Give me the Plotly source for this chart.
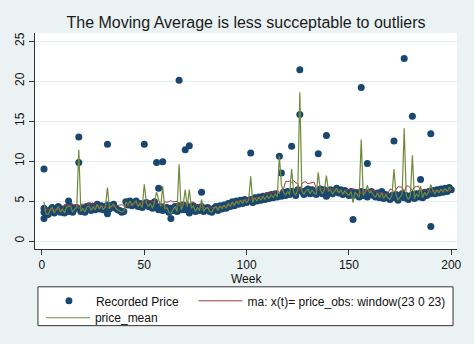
import numpy as np
import pandas as pd
import plotly.graph_objects as go

# Weekly recorded prices (one regular observation per week, weeks 1..200)
weeks = list(range(1, 201))
base_price = [
    4.1, 3.4, 3.3, 3.9, 4.2, 3.5, 3.9, 4.3, 3.6, 4.0,
    3.5, 4.2, 3.7, 4.3, 3.6, 4.0, 4.2, 9.8, 3.7, 4.1,
    3.6, 4.3, 4.4, 3.8, 4.3, 3.9, 4.6, 4.0, 4.4, 3.9,
    4.3, 4.5, 4.0, 4.4, 4.6, 4.1, 3.9, 3.8, 3.6, 3.7,
    4.9, 4.5, 5.0, 4.4, 4.8, 5.0, 4.3, 4.7, 4.2, 4.6,
    4.8, 4.3, 4.7, 4.1, 4.9, 4.3, 3.9, 4.3, 3.8, 4.0,
    4.2, 3.6, 4.1, 3.8, 4.3, 3.7, 4.3, 3.9, 4.5, 4.0,
    4.3, 3.9, 4.1, 4.4, 3.7, 4.2, 3.8, 4.3, 3.7, 4.1,
    4.2, 3.7, 3.6, 4.1, 4.3, 3.8, 4.4, 4.0, 4.5, 4.1,
    4.7, 4.3, 4.9, 4.4, 5.0, 4.6, 5.1, 4.7, 5.2, 4.8,
    5.1, 5.2, 4.8, 5.4, 5.0, 5.5, 5.1, 5.6, 5.2, 5.7,
    5.3, 5.8, 5.4, 5.9, 5.5, 10.6, 5.6, 6.1, 5.7, 6.2,
    5.8, 6.2, 6.1, 5.7, 6.4, 15.8, 6.2, 5.8, 6.3, 6.5,
    5.9, 6.4, 6.0, 5.8, 6.2, 6.5, 5.9, 6.4, 5.7, 6.2,
    6.4, 5.9, 6.3, 6.6, 6.0, 6.4, 5.8, 6.3, 5.9, 5.7,
    6.2, 5.7, 6.1, 5.8, 5.5, 6.2, 5.7, 6.1, 5.7, 6.0,
    6.2, 5.7, 5.5, 6.0, 5.4, 5.9, 5.3, 5.8, 5.4, 5.2,
    5.7, 5.4, 5.8, 5.1, 5.6, 5.9, 5.4, 5.7, 5.2, 5.6,
    5.8, 5.3, 5.9, 5.5, 6.0, 5.4, 6.1, 5.7, 6.2, 5.9,
    6.3, 5.9, 6.4, 6.0, 6.5, 6.1, 6.6, 6.2, 6.7, 6.4,
]

# Additional observations recorded in some weeks (including the outliers)
extra_week = [1, 1, 1, 13, 18, 32, 32, 50, 50, 56, 56, 57, 59, 63, 67, 67,
              70, 70, 72, 72, 78, 102, 117, 122, 126, 135, 139, 139, 152, 152,
              156, 159, 159, 166, 172, 177, 181, 185, 190, 190]
extra_price = [9.0, 2.8, 3.6, 5.0, 13.0, 12.1, 3.4, 12.1, 4.6, 9.8, 4.2, 6.6,
               9.9, 2.8, 20.1, 4.4, 11.4, 3.9, 11.9, 3.5, 6.1, 11.0, 8.5, 11.85,
               21.4, 10.9, 13.2, 5.6, 2.7, 6.0, 19.2, 9.7, 5.5, 6.2, 12.5, 22.8,
               15.6, 7.7, 13.4, 1.8]

x_ticks = [0, 50, 100, 150, 200]
y_ticks = [0, 5, 10, 15, 20, 25]

obs = pd.DataFrame({
    "week": weeks + extra_week,
    "price": base_price + extra_price,
})

# Mean price per week
price_mean = obs.groupby("week")["price"].mean()
pm_vals = price_mean.to_numpy()

# Centred moving average of the weekly series, current week left out
SPAN = 7
ma_vals = []
for i in range(len(pm_vals)):
    window = np.r_[pm_vals[max(0, i - SPAN):i], pm_vals[i + 1:i + 1 + SPAN]]
    ma_vals.append(window.mean())

FONT = "Liberation Sans, Arial, sans-serif"
NAVY = "#1A476F"
MAROON = "#9C3A42"
GREEN = "#6F8A3A"
BG = "#EAF2F3"
TXT = "#111111"

# plot area in pixels: x 35..461, y 33..250
PW, PH, PL, PT = 426, 217, 35, 33


def px_x(px):
    return (px - PL) / PW


def px_y(py):
    return (PT + PH - py) / PH


fig = go.Figure()
fig.add_trace(go.Scatter(
    x=obs["week"], y=obs["price"], mode="markers", name="Recorded Price",
    marker=dict(color=NAVY, size=7, line=dict(width=0)),
    legend="legend",
))
fig.add_trace(go.Scatter(
    x=price_mean.index, y=ma_vals, mode="lines",
    name="ma: x(t)= price_obs: window(23 0 23)",
    line=dict(color=MAROON, width=1),
    legend="legend2",
))
fig.add_trace(go.Scatter(
    x=price_mean.index, y=pm_vals, mode="lines", name="price_mean",
    line=dict(color=GREEN, width=1.2),
    legend="legend3",
))

axis_common = dict(
    showline=True, linecolor="#333333", linewidth=1,
    ticks="outside", ticklen=5, tickcolor="#333333", tickwidth=1,
    zeroline=False,
    tickfont=dict(family=FONT, size=12, color=TXT),
)

legend_common = dict(
    orientation="v", xanchor="left", yanchor="top",
    bgcolor="rgba(0,0,0,0)", borderwidth=0, itemwidth=44,
    font=dict(family=FONT, size=12, color=TXT),
)

fig.update_layout(
    width=474, height=344,
    margin=dict(l=35, r=13, t=33, b=94),
    paper_bgcolor=BG, plot_bgcolor="white",
    font=dict(family=FONT, size=12, color=TXT),
    title=dict(
        text="The Moving Average is less succeptable to outliers",
        x=0.5, xref="paper", xanchor="center",
        y=1 - 22.4 / 344, yref="container", yanchor="middle",
        font=dict(family=FONT, size=16, color="#1a1a1a"),
    ),
    xaxis=dict(
        range=[-3.4, 202.8], tickvals=x_ticks, showgrid=False,
        **axis_common,
    ),
    yaxis=dict(
        range=[-1, 26], tickvals=y_ticks, tickangle=-90,
        showgrid=True, gridcolor="#E4EDEF", gridwidth=1,
        **axis_common,
    ),
    showlegend=True,
    legend=dict(x=px_x(42), y=px_y(287.5), **legend_common),
    legend2=dict(x=px_x(195), y=px_y(287.5), **legend_common),
    legend3=dict(x=px_x(41), y=px_y(304.5), **legend_common),
    annotations=[dict(
        text="Week", xref="paper", yref="paper", x=0.5, y=px_y(280),
        xanchor="center", yanchor="middle", showarrow=False,
        font=dict(family=FONT, size=12, color=TXT),
    )],
    shapes=[dict(
        type="rect", xref="paper", yref="paper",
        x0=px_x(38), x1=px_x(457), y0=px_y(327), y1=px_y(288),
        line=dict(color="#333333", width=1), fillcolor="white", layer="below",
    )],
)

fig.write_html("out.html")
